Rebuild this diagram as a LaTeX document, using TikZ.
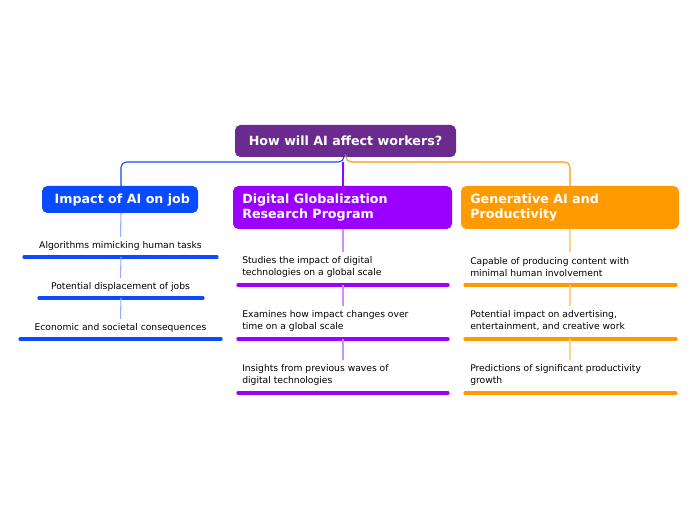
\documentclass[tikz,border=0pt]{standalone}
\usepackage{fontspec}
\setmainfont{DejaVu Sans}
\definecolor{rootcol}{HTML}{6A2A8E}
\definecolor{bluecol}{HTML}{0A4BFF}
\definecolor{purpcol}{HTML}{9B00FF}
\definecolor{orngcol}{HTML}{FF9A00}
\tikzset{
  topic/.style={fill=#1, rounded corners=4pt, text=white, font=\bfseries\fontsize{10.5}{12}\selectfont, align=left, anchor=north west, inner sep=0pt},
  leaf/.style={font=\fontsize{8.3}{11}\selectfont, align=left, text width=#1, inner sep=0pt},
  uline/.style={draw=#1, line width=2.5pt, line cap=round},
  thin/.style={draw=#1!45, line width=0.8pt}
}
\begin{document}
\begin{tikzpicture}[x=0.75pt,y=-0.75pt]
\useasboundingbox (0,0) rectangle (696,520);
% root
\fill[rootcol, rounded corners=4pt] (235,125) rectangle (456,157);
\node[text=white, font=\bfseries\fontsize{9.5}{11}\selectfont] (root) at (345.5,141) {How will AI affect workers?};
% topics
\fill[bluecol, rounded corners=4pt] (42,186) rectangle (198,213);
\node[text=white, font=\bfseries\fontsize{9.5}{11}\selectfont, anchor=west] (job) at (50,200) {Impact of AI on job};
\fill[purpcol, rounded corners=4pt] (233,186) rectangle (452,229);
\node[text=white, font=\bfseries\fontsize{9.5}{11}\selectfont, anchor=north west, align=left, inner sep=0pt] (dig) at (242,194) {Digital Globalization\\Research Program};
\fill[orngcol, rounded corners=4pt] (461,186) rectangle (679,229);
\node[text=white, font=\bfseries\fontsize{9.5}{11}\selectfont, anchor=north west, align=left, inner sep=0pt] (gen) at (470,194) {Generative AI and\\Productivity};
% connectors
\draw[bluecol, line width=0.8pt, rounded corners=4pt] (344,157) -- (344,162) -- (121,162) -- (121,186);
\draw[purpcol, line width=0.8pt] (343,162) -- (343,186);
\draw[orngcol, line width=0.8pt, rounded corners=4pt] (346,157) -- (346,162) -- (570,162) -- (570,186);
% left leaves
\node[font=\fontsize{6.9}{9}\selectfont] (l1) at (120.5,246) {Algorithms mimicking human tasks};
\node[font=\fontsize{6.9}{9}\selectfont] (l2) at (120.5,287) {Potential displacement of jobs};
\node[font=\fontsize{6.9}{9}\selectfont] (l3) at (120.5,328) {Economic and societal consequences};
\draw[uline=bluecol] (24,257) -- (217,257);
\draw[uline=bluecol] (39,298) -- (203,298);
\draw[uline=bluecol] (20,339) -- (221,339);
\draw[thin=bluecol] (121,213) -- (l1.north);
\draw[thin=bluecol] (121,257) -- (l2.north);
\draw[thin=bluecol] (121,298) -- (l3.north);
% middle leaves
\foreach \y/\t/\n in {267/{Studies the impact of digital\\technologies on a global scale}/m1,
                     321/{Examines how impact changes over\\time on a global scale}/m2,
                     375/{Insights from previous waves of\\digital technologies}/m3}{
  \node[font=\fontsize{6.9}{9}\selectfont, align=left, anchor=west, inner sep=0pt] (\n) at (242,\y) {\t};
  \draw[uline=purpcol] (238,\y+18) -- (448,\y+18);
}
\draw[thin=purpcol] (343,229) -- (343,252);
\draw[thin=purpcol] (343,285) -- (343,306);
\draw[thin=purpcol] (343,339) -- (343,360);
% right leaves
\foreach \y/\t/\n in {267/{Capable of producing content with\\minimal human involvement}/r1,
                     321/{Potential impact on advertising,\\entertainment, and creative work}/r2,
                     375/{Predictions of significant productivity\\growth}/r3}{
  \node[font=\fontsize{6.9}{9}\selectfont, align=left, anchor=west, inner sep=0pt] (\n) at (470,\y) {\t};
  \draw[uline=orngcol] (465,\y+18) -- (676,\y+18);
}
\draw[thin=orngcol] (570,229) -- (570,252);
\draw[thin=orngcol] (570,285) -- (570,306);
\draw[thin=orngcol] (570,339) -- (570,360);
\end{tikzpicture}
\end{document}
